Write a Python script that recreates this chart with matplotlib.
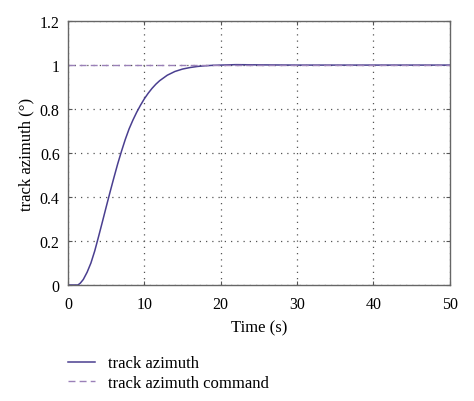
import numpy as np
import matplotlib
matplotlib.use('Agg')
import matplotlib.pyplot as plt

plt.rcParams['font.family'] = ['Liberation Serif', 'DejaVu Serif']

# data
t = [0, 1.3, 1.6, 2, 2.5, 3, 3.5, 4, 4.5, 5, 5.5, 6, 6.5, 7, 7.5, 8,
     8.5, 9, 9.5, 10, 10.5, 11, 11.5, 12, 13, 14, 15, 16, 17, 18, 19,
     20, 22, 25, 30, 40, 50]
azimuth = [0, 0, 0.008, 0.025, 0.058, 0.10, 0.155, 0.22, 0.287, 0.355,
           0.422, 0.487, 0.55, 0.608, 0.662, 0.71, 0.75, 0.786, 0.818,
           0.847, 0.872, 0.894, 0.913, 0.929, 0.954, 0.971, 0.982, 0.989,
           0.994, 0.997, 0.999, 1.0, 1.002, 1.001, 1.0, 1.0, 1.0]
cmd_t = [0, 50]
cmd = [1, 1]

xticks = [0, 10, 20, 30, 40, 50]
yticks = [0, 0.2, 0.4, 0.6, 0.8, 1, 1.2]
ytick_labels = ['0', '0.2', '0.4', '0.6', '0.8', '1', '1.2']

fig = plt.figure(figsize=(4.74, 4.02), dpi=100)
ax = fig.add_axes([0.1435, 0.2886, 0.8055, 0.6564])

l1, = ax.plot(t, azimuth, color='#4a3f90', lw=1.1, label='track azimuth')
l2, = ax.plot(cmd_t, cmd, color='#9a80b8', lw=1.0, ls=(0, (5, 3)),
              label='track azimuth command')

ax.set_xlim(0, 50)
ax.set_ylim(0, 1.2)
ax.set_xticks(xticks)
ax.set_yticks(yticks)
ax.set_yticklabels(ytick_labels)
ax.tick_params(direction='in', length=3, labelsize=11.5, color='#555555',
               top=True, right=True)
ax.tick_params(axis='x', pad=8)
ax.tick_params(axis='y', pad=6)
ax.grid(True, ls=(0, (1, 4)), color='#555555', lw=0.9)
for s in ax.spines.values():
    s.set_color('#666666')
    s.set_linewidth(1.0)

ax.set_xlabel('Time (s)', fontsize=12, labelpad=5)
ax.set_ylabel('track azimuth (°)', fontsize=12)

fig.legend(handles=[l1, l2], loc='upper left', bbox_to_anchor=(0.13, 0.13),
           frameon=False, fontsize=12, handlelength=1.6, handletextpad=0.8,
           labelspacing=0.2, borderaxespad=0)

fig.savefig('out.png', dpi=100)
